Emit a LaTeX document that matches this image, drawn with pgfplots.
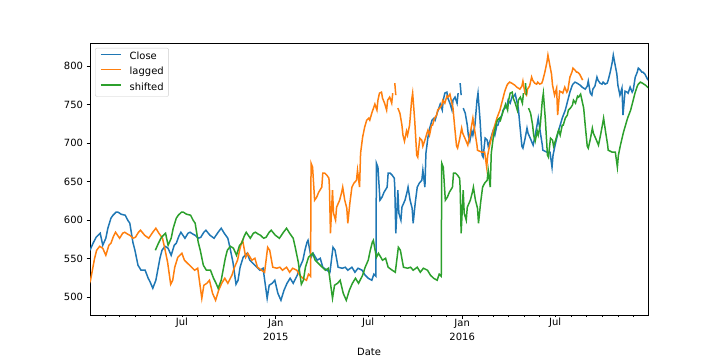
\documentclass[border=0pt]{standalone}
\usepackage{pgfplots}
\pgfplotsset{compat=1.18}
\usepackage{pgfplotstable}
\usepackage{fontspec}
\setmainfont{DejaVu Sans}
\definecolor{C0}{HTML}{1F77B4}
\definecolor{C1}{HTML}{FF7F0E}
\definecolor{C2}{HTML}{2CA02C}
\definecolor{legedge}{HTML}{CCCCCC}
% day = days since 2014-01-01, close = closing price
\pgfplotstableread{
day close
1 561.0
7 570.1
13 577.9
21 583.1
26 567.5
32 576.6
36 589.6
42 602.6
46 606.5
52 610.4
56 610.4
62 607.8
70 606.5
75 600.0
79 596.1
85 571.4
89 561.0
95 541.6
101 535.1
109 535.1
115 524.7
119 519.5
124 511.7
130 522.1
138 550.6
142 561.0
148 566.2
154 563.6
160 554.5
166 567.5
170 570.1
175 579.2
179 584.4
187 576.6
193 583.1
197 584.4
203 581.8
207 580.5
213 576.6
218 577.9
224 584.4
228 587.0
236 580.5
244 576.6
252 584.4
258 589.6
264 583.1
271 576.6
275 564.9
281 545.5
287 516.9
291 522.1
295 539.0
301 551.9
309 557.1
314 548.1
320 544.2
328 539.0
334 535.1
340 537.7
348 498.7
352 515.6
358 518.2
363 522.1
369 505.2
375 496.1
381 509.1
387 518.2
393 524.7
399 518.2
407 528.6
412 539.0
418 548.1
422 561.0
426 571.4
428 574.0
434 551.9
438 557.1
446 548.1
452 550.6
457 539.0
465 535.1
471 532.5
477 564.9
481 561.0
487 539.0
495 537.7
501 539.0
506 535.1
514 539.0
520 532.5
526 537.7
534 535.1
540 528.6
546 524.7
553 522.1
557 530.0
561 527.3
562 674.0
565 668.8
569 626.0
573 629.9
577 636.4
583 642.9
585 661.0
589 661.0
593 658.4
597 654.5
598 642.9
600 583.1
604 639.0
606 609.1
610 600.0
612 616.9
618 626.0
622 636.4
624 642.9
628 626.0
632 615.6
634 596.1
638 622.1
642 642.9
646 648.1
651 651.9
653 664.9
657 642.9
659 687.0
663 707.8
667 720.8
671 729.9
675 732.5
677 729.9
681 739.0
683 742.9
687 750.6
691 742.9
693 755.8
696 764.9
700 766.2
702 758.4
706 751.9
710 742.9
712 755.8
716 759.7
720 751.9
722 764.9
724 nan
726 777.9
728 762.3
730 nan
732 745.5
736 739.0
740 723.4
742 710.4
745 702.6
749 715.6
751 710.4
755 723.4
759 755.8
761 764.9
765 729.9
769 684.4
771 681.8
775 706.5
779 703.9
781 696.1
785 703.9
789 713.0
791 716.9
794 710.4
798 723.4
800 723.4
804 732.5
808 736.4
810 742.9
814 745.5
818 749.4
820 755.8
824 751.9
828 761.0
830 759.7
834 763.6
840 745.5
843 723.4
847 696.1
849 693.5
853 705.2
857 719.5
859 713.0
865 703.9
869 697.4
873 710.4
877 724.7
879 732.5
883 714.3
887 697.4
888 690.9
896 688.3
902 688.3
906 668.8
908 684.4
912 697.4
918 714.3
926 732.5
932 742.9
937 755.8
941 766.2
945 774.0
947 776.6
951 779.2
955 777.9
961 775.3
965 772.7
971 770.1
975 774.0
977 780.5
981 764.9
984 762.3
986 770.1
990 774.0
994 785.7
996 781.8
1000 777.9
1004 776.6
1006 779.2
1010 776.6
1014 777.9
1016 781.8
1020 792.2
1024 805.2
1026 814.3
1030 800.0
1033 789.6
1035 775.3
1039 762.3
1043 771.4
1045 736.4
1049 767.5
1053 766.2
1055 764.9
1059 772.7
1063 766.2
1065 768.8
1069 785.7
1073 792.2
1075 797.4
1079 794.8
1082 792.2
1084 792.2
1088 789.6
1092 784.4
1094 781.8
}\closedata
\begin{document}
\begin{tikzpicture}
\useasboundingbox (-90bp,-45bp) rectangle (630bp,315bp);
\begin{axis}[
  at={(0,0)}, anchor=south west,
  width=558bp, height=272bp, scale only axis,
  xmin=1, xmax=1094, ymin=477, ymax=830,
  axis line style={line width=0.8bp},
  tick align=outside,
  xtick pos=bottom, ytick pos=left,
  major tick length=3.5bp, minor tick length=2bp,
  every tick/.style={black, line width=0.8bp},
  every minor tick/.style={black, line width=0.6bp},
  ytick={500,550,600,650,700,750,800},
  xtick={365,730},
  xticklabels={{Jan\\2015},{Jan\\2016}},
  extra x ticks={181,546,912},
  extra x tick labels={Jul,Jul,Jul},
  extra x tick style={major tick length=2bp, every tick/.style={black, line width=0.6bp}},
  minor xtick={31,59,90,120,151,212,243,273,304,334,396,424,455,485,516,577,608,638,669,699,761,790,821,851,882,943,974,1004,1035,1065},
  /pgf/number format/assume math mode=true,
  ticklabel style={font=\fontsize{10}{14}\selectfont},
  xticklabel style={align=center, yshift=3bp},
  xlabel={Date},
  xlabel style={yshift=4bp},
  label style={font=\fontsize{10}{12}\selectfont},
  unbounded coords=jump,
  legend cell align=left,
  legend style={at={(0.009,0.982)}, anchor=north west, draw=legedge, rounded corners=2bp,
    font=\fontsize{10}{12}\selectfont, fill=white,
    inner xsep=5bp, inner ysep=4bp, row sep=5.5bp, column sep=8bp,
    nodes={inner sep=0pt, text height=7.5bp, text depth=2.3bp}},
  legend image code/.code={\draw[#1, line width=1.5bp] (0bp,2.6bp) -- (20bp,2.6bp);},
]
\addplot[C0, line width=1.5bp] table[x=day, y=close] {\closedata};
\addlegendentry{Close}
\addplot[C1, line width=1.5bp] table[x expr=\thisrow{day}-128, y=close] {\closedata};
\addlegendentry{lagged}
\addplot[C2, line width=1.5bp] table[x expr=\thisrow{day}+128, y=close] {\closedata};
\addlegendentry{shifted}
\end{axis}
\end{tikzpicture}
\end{document}
